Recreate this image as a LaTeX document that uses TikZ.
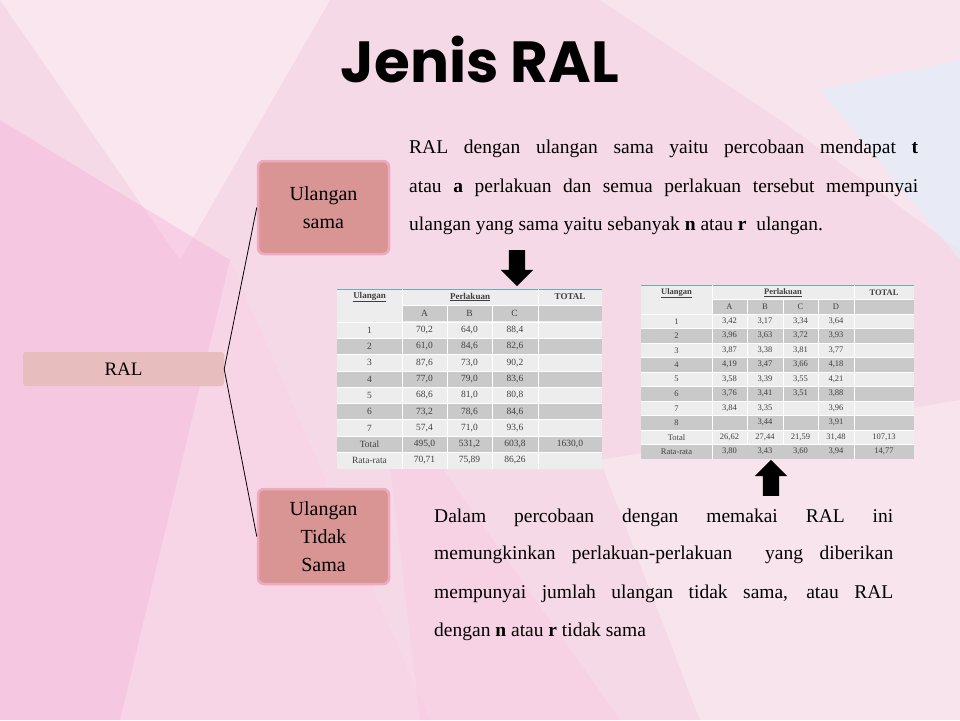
\documentclass[tikz,border=0pt]{standalone}
\usepackage{fontspec}
\setmainfont{Liberation Serif}
\newfontfamily\titlefont{Poppins Bold}
\usetikzlibrary{shapes.arrows}
\definecolor{bgp}{HTML}{F6D9E6}
\definecolor{rose}{HTML}{D99594}
\definecolor{roseb}{HTML}{F0A8BE}
\definecolor{ralf}{HTML}{E8BDBD}
\definecolor{cl}{HTML}{EDEDED}
\definecolor{cd}{HTML}{C9C9C9}
\tikzset{
 box/.style={draw=roseb,line width=2.5pt,fill=rose,rounded corners=6pt,align=center,font=\fontsize{20}{28}\selectfont},
 cell/.style={draw=none,inner sep=0pt,font=\fontsize{9.5}{11}\selectfont,text=black!75},
 rcell/.style={draw=none,inner sep=0pt,font=\fontsize{8.5}{10}\selectfont,text=black!75},
 para/.style={anchor=base west,inner sep=0pt,font=\fontsize{19.5}{22}\selectfont},
 bigarrow/.style={single arrow,fill=black,draw=none,minimum height=36pt,single arrow head extend=8pt,inner sep=8pt}
}
\newcommand{\jline}[1]{\makebox[#1][s]}
\begin{document}
\begin{tikzpicture}[x=1pt,y=-1pt]
\useasboundingbox (0,0) rectangle (960,720);
\fill[bgp] (0,0) rectangle (960,720);
\fill[white,opacity=0.35] (0,0) -- (330,0) -- (180,260) -- cycle;
\fill[white,opacity=0.3] (600,0) -- (960,0) -- (960,250) -- (780,120) -- cycle;
\fill[cyan!15,opacity=0.5] (820,90) -- (960,60) -- (960,260) -- cycle;
\fill[magenta!35,opacity=0.35] (0,120) -- (230,260) -- (120,720) -- (0,720) -- cycle;
\fill[magenta!20,opacity=0.3] (230,260) -- (430,720) -- (120,720) -- cycle;
\fill[white,opacity=0.3] (600,460) -- (960,400) -- (960,720) -- (700,720) -- cycle;
\fill[magenta!25,opacity=0.25] (380,380) -- (620,720) -- (420,720) -- cycle;

\node (title) at (480,60) {\titlefont\fontsize{58}{64}\selectfont Jenis RAL};

\node[fill=ralf,rounded corners=3pt,minimum width=201pt,minimum height=34pt,font=\fontsize{19}{22}\selectfont] (ral) at (123.5,369) {RAL};
\node[box,minimum width=131pt,minimum height=93pt] (us) at (323.5,207.5) {Ulangan\\sama};
\node[box,minimum width=131pt,minimum height=95pt] (uts) at (323.5,536.5) {Ulangan\\Tidak\\Sama};
\draw[black,line width=0.8pt] (ral.east) -- (us.west);
\draw[black,line width=0.8pt] (ral.east) -- (uts.west);

\node[para] (p1) at (409,153) {\jline{509pt}{RAL dengan ulangan sama yaitu percobaan mendapat \textbf{t}}};
\node[para] (p2) at (409,192) {\jline{509pt}{atau \textbf{a} perlakuan dan semua perlakuan tersebut mempunyai}};
\node[para] (p3) at (409,230) {ulangan yang sama yaitu sebanyak \textbf{n} atau \textbf{r}\ \ ulangan.};

\node[para] (q1) at (434,522) {\jline{459pt}{Dalam percobaan dengan memakai RAL ini}};
\node[para] (q2) at (434,559) {\jline{459pt}{memungkinkan perlakuan-perlakuan\ \ yang diberikan}};
\node[para] (q3) at (434,598) {\jline{459pt}{mempunyai jumlah ulangan tidak sama, atau RAL}};
\node[para] (q4) at (434,636) {dengan \textbf{n} atau \textbf{r} tidak sama};

\node[bigarrow,shape border rotate=270] (a1) at (517,264) {};
\node[bigarrow,shape border rotate=90] (a2) at (771,482) {};

% left table
\begin{scope}
\fill[cl] (337,289) rectangle (602,469);
\foreach \y/\c in {305/cd,322/cl,338.3/cd,354.6/cl,370.9/cd,387.2/cl,403.5/cd,419.8/cl,436.1/cd,452.4/cl}{
  \fill[\c] (337,\y) rectangle (602,\y+16.3);}
\fill[cl] (337,289) rectangle (602,305);
\fill[cl] (337,305) rectangle (402,322);
\draw[teal!60,line width=1pt] (337,289) -- (602,289);
\foreach \x in {447,492}{\draw[white,line width=0.8pt] (\x,305) -- (\x,469);}
\foreach \x in {402,538}{\draw[white,line width=0.8pt] (\x,289) -- (\x,469);}
\foreach \y in {322,338.3,354.6,370.9,387.2,403.5,419.8,436.1,452.4}{\draw[white,line width=0.8pt] (337,\y) -- (602,\y);}
\draw[white,line width=0.8pt] (402,305) -- (602,305);
\node[cell,font=\fontsize{9}{10}\selectfont\bfseries] (lt1) at (369.5,297) {\underline{Ulangan}};
\node[cell,font=\fontsize{9}{10}\selectfont\bfseries] (lt2) at (470,297) {\underline{Perlakuan}};
\node[cell,font=\fontsize{9}{10}\selectfont\bfseries] (lt3) at (570,297) {TOTAL};
\foreach \t [count=\i] in {A,B,C}{\node[cell] (lh\i) at (379.5+45*\i,313.5) {\t};}
\foreach \r/\a/\b/\c/\d [count=\i from 0] in {1/{70,2}/{64,0}/{88,4}/{},2/{61,0}/{84,6}/{82,6}/{},3/{87,6}/{73,0}/{90,2}/{},4/{77,0}/{79,0}/{83,6}/{},5/{68,6}/{81,0}/{80,8}/{},6/{73,2}/{78,6}/{84,6}/{},7/{57,4}/{71,0}/{93,6}/{},Total/{495,0}/{531,2}/{603,8}/{1630,0},Rata-rata/{70,71}/{75,89}/{86,26}/{}}{
  \pgfmathsetmacro{\yy}{330.15+16.3*\i}
  \node[cell] (lr\i) at (369.5,\yy) {\r};
  \node[cell] (la\i) at (424.5,\yy) {\a};
  \node[cell] (lb\i) at (469.5,\yy) {\b};
  \node[cell] (lc\i) at (515,\yy) {\c};
  \node[cell] (ld\i) at (570,\yy) {\d};}
\end{scope}

% right table
\begin{scope}
\fill[cl] (641,285) rectangle (914,459);
\foreach \y/\c in {314/cl,328.5/cd,343/cl,357.5/cd,372/cl,386.5/cd,401/cl,415.5/cd,430/cl,444.5/cd}{
  \fill[\c] (641,\y) rectangle (914,\y+14.5);}
\fill[cd] (712,299) rectangle (914,314);
\draw[teal!60,line width=1pt] (641,285) -- (914,285);
\draw[white,line width=0.8pt] (712,285) -- (712,459);
\foreach \x in {747,783,818}{\draw[white,line width=0.8pt] (\x,299) -- (\x,444.5);}
\draw[white,line width=0.8pt] (854,285) -- (854,459);
\foreach \y in {314,328.5,343,357.5,372,386.5,401,415.5,430,444.5}{\draw[white,line width=0.8pt] (641,\y) -- (914,\y);}
\draw[white,line width=0.8pt] (712,299) -- (914,299);
\node[rcell,font=\fontsize{8.5}{10}\selectfont\bfseries] (rt1) at (676.5,293) {\underline{Ulangan}};
\node[rcell,font=\fontsize{8.5}{10}\selectfont\bfseries] (rt2) at (783,293) {\underline{Perlakuan}};
\node[rcell,font=\fontsize{8.5}{10}\selectfont\bfseries] (rt3) at (884,293) {TOTAL};
\foreach \t/\x [count=\i] in {A/729.5,B/765,C/800.5,D/836}{\node[rcell] (rh\i) at (\x,306.5) {\t};}
\foreach \r/\a/\b/\c/\d/\e [count=\i from 0] in {1/{3,42}/{3,17}/{3,34}/{3,64}/{},2/{3,96}/{3,63}/{3,72}/{3,93}/{},3/{3,87}/{3,38}/{3,81}/{3,77}/{},4/{4,19}/{3,47}/{3,66}/{4,18}/{},5/{3,58}/{3,39}/{3,55}/{4,21}/{},6/{3,76}/{3,41}/{3,51}/{3,88}/{},7/{3,84}/{3,35}/{}/{3,96}/{},8/{}/{3,44}/{}/{3,91}/{},Total/{26,62}/{27,44}/{21,59}/{31,48}/{107,13},Rata-rata/{3,80}/{3,43}/{3,60}/{3,94}/{14,77}}{
  \pgfmathsetmacro{\yy}{321.25+14.5*\i}
  \node[rcell] (rr\i) at (676.5,\yy) {\r};
  \node[rcell] (ra\i) at (729.5,\yy) {\a};
  \node[rcell] (rb\i) at (765,\yy) {\b};
  \node[rcell] (rc\i) at (800.5,\yy) {\c};
  \node[rcell] (rd\i) at (836,\yy) {\d};
  \node[rcell] (re\i) at (884,\yy) {\e};}
\end{scope}
\end{tikzpicture}
\end{document}
